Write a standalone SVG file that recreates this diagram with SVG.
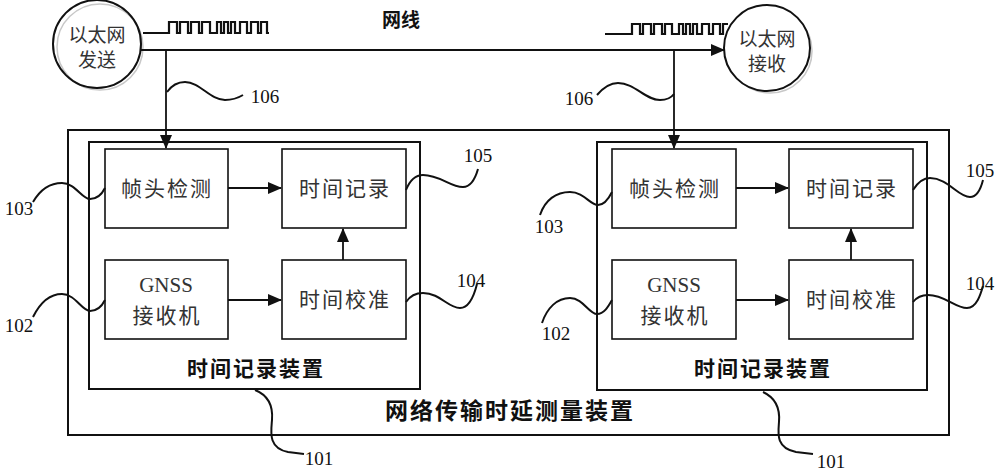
<svg xmlns="http://www.w3.org/2000/svg" width="1000" height="474" viewBox="0 0 1000 474">
<style>
.bx{fill:#fff;stroke:#111;stroke-width:1.6}
.frame{fill:none;stroke:#111;stroke-width:2}
.ln{fill:none;stroke:#111;stroke-width:1.8}
.ld{fill:none;stroke:#111;stroke-width:2}
.wave{fill:none;stroke:#111;stroke-width:2.2}
.t{font-family:"Noto Sans CJK SC","Noto Sans",sans-serif;font-size:21px;fill:#333;text-anchor:middle;letter-spacing:2px}
.tb{font-family:"Noto Sans CJK SC","Noto Sans",sans-serif;font-size:21px;font-weight:bold;fill:#111;text-anchor:middle;letter-spacing:2px}
.num{font-family:"Liberation Serif",serif;font-size:19px;fill:#111;text-anchor:middle}
.en{font-family:"Liberation Serif",serif;font-size:21px;fill:#333;text-anchor:middle}
.ct{font-family:"Noto Sans CJK SC","Noto Sans",sans-serif;font-size:19px;fill:#333;text-anchor:middle}
</style>
<defs>
<marker id="ah" markerWidth="14" markerHeight="12" refX="13" refY="6" orient="auto" markerUnits="userSpaceOnUse">
<path d="M0,0 L14,6 L0,12 Z" fill="#111"/>
</marker>
</defs>
<rect width="1000" height="474" fill="#fff"/>

<g id="frame-outer">
<rect class="frame" x="68" y="130" width="881" height="305"/>
<text class="tb" x="510" y="419" style="font-size:23px">网络传输时延测量装置</text>
</g>

<g id="device-left">
<rect class="frame" x="89" y="142" width="331" height="247"/>
<text class="tb" x="256" y="376">时间记录装置</text>
</g>
<g id="device-right">
<rect class="frame" x="597" y="142" width="330" height="248"/>
<text class="tb" x="763" y="376">时间记录装置</text>
</g>

<g id="eth-send">
<circle cx="100" cy="47" r="43" fill="none" stroke="#c8c8c8" stroke-width="1.5"/>
<circle cx="97" cy="44" r="44" fill="none" stroke="#111" stroke-width="2"/>
<text class="ct" x="97" y="42">以太网</text>
<text class="ct" x="97" y="67">发送</text>
</g>
<g id="eth-recv">
<circle cx="770" cy="51" r="42" fill="none" stroke="#c8c8c8" stroke-width="1.5"/>
<circle cx="767" cy="48" r="43" fill="#fff" stroke="#111" stroke-width="2"/>
<text class="ct" x="767" y="46">以太网</text>
<text class="ct" x="767" y="71">接收</text>
</g>

<g id="l-frame-detect"><rect class="bx" x="105" y="149" width="123" height="79"/><text class="t" x="167" y="196">帧头检测</text></g>
<g id="l-time-record"><rect class="bx" x="282" y="149" width="124" height="79"/><text class="t" x="345" y="196">时间记录</text></g>
<g id="l-gnss"><rect class="bx" x="105" y="260" width="123" height="79"/><text class="en" x="166" y="292">GNSS</text><text class="t" x="167" y="323">接收机</text></g>
<g id="l-time-cal"><rect class="bx" x="282" y="260" width="124" height="79"/><text class="t" x="345" y="307">时间校准</text></g>

<g id="r-frame-detect"><rect class="bx" x="612" y="149" width="124" height="79"/><text class="t" x="675" y="196">帧头检测</text></g>
<g id="r-time-record"><rect class="bx" x="789" y="149" width="124" height="79"/><text class="t" x="852" y="196">时间记录</text></g>
<g id="r-gnss"><rect class="bx" x="612" y="260" width="124" height="79"/><text class="en" x="674" y="292">GNSS</text><text class="t" x="675" y="323">接收机</text></g>
<g id="r-time-cal"><rect class="bx" x="789" y="260" width="124" height="79"/><text class="t" x="852" y="307">时间校准</text></g>

<g id="connectors">
<line class="ln" x1="141" y1="50" x2="724" y2="50" marker-end="url(#ah)"/>
<line class="ln" x1="166" y1="50" x2="166" y2="148" marker-end="url(#ah)"/>
<line class="ln" x1="674" y1="50" x2="674" y2="148" marker-end="url(#ah)"/>
<line class="ln" x1="228" y1="188" x2="281" y2="188" marker-end="url(#ah)"/>
<line class="ln" x1="228" y1="300" x2="281" y2="300" marker-end="url(#ah)"/>
<line class="ln" x1="343" y1="260" x2="343" y2="229" marker-end="url(#ah)"/>
<line class="ln" x1="736" y1="188" x2="788" y2="188" marker-end="url(#ah)"/>
<line class="ln" x1="736" y1="300" x2="788" y2="300" marker-end="url(#ah)"/>
<line class="ln" x1="851" y1="260" x2="851" y2="229" marker-end="url(#ah)"/>
</g>

<g id="waveforms">
<path class="wave" d="M143,33 H169 V22 H177 V33 H180 V22 H188 V33 H191 V22 H199 V33 H202 V22 H210 V33 H217 V22 H221 V33 H224 V22 H228 V33 H231 V22 H235 V33 H240 V22 H247 V33 H251 V22 H258 V33 H261 V22 H267 V33 H269"/>
<path class="wave" d="M605,34 H632 V24 H640 V34 H643 V24 H651 V34 H654 V24 H662 V34 H665 V24 H672 V34 H679 V24 H683 V34 H686 V24 H690 V34 H693 V24 H697 V34 H702 V24 H709 V34 H713 V24 H720 V34 H723 V24 H728"/>
</g>
<text class="tb" x="401" y="27" style="font-size:19px;letter-spacing:0">网线</text>

<g id="leaders">
<path class="ld" d="M167,92 C172,85 178,82 185,82 C200,82 210,100 225,100 C232,100 238,98 243,95"/>
<path class="ld" d="M597,95 C603,88 610,83 618,83 C635,83 645,100 660,100 C667,100 671,98 674,94"/>
<path class="ld" d="M406,190 C410,180 416,175 423,175 C440,175 450,187 463,187 C472,187 476,176 478,169"/>
<path class="ld" d="M913,190 C918,182 924,178 930,178 C948,178 958,197 970,197 C977,197 981,188 983,180"/>
<path class="ld" d="M406,302 C410,296 416,293 423,293 C440,293 448,308 460,308 C470,308 475,292 477,284"/>
<path class="ld" d="M913,302 C917,297 922,295 928,295 C945,295 955,308 967,308 C977,308 981,293 983,286"/>
<path class="ld" d="M33,202 C40,190 50,183 62,183 C75,183 82,199 90,199 C97,199 102,194 105,188"/>
<path class="ld" d="M540,215 C545,200 556,192 570,192 C584,192 590,205 598,205 C605,205 609,198 612,192"/>
<path class="ld" d="M33,317 C40,303 50,294 62,294 C75,294 82,311 90,311 C97,311 102,306 105,300"/>
<path class="ld" d="M542,323 C547,308 557,298 570,298 C583,298 589,314 597,314 C604,314 608,307 612,300"/>
<path class="ld" d="M255,390 C270,396 273,408 272,420 C271,432 268,448 288,452 L304,454"/>
<path class="ld" d="M763,392 C776,398 780,410 779,422 C778,434 776,448 796,452 L813,454"/>
</g>

<g id="labels">
<text class="num" x="265" y="103">106</text>
<text class="num" x="579" y="105">106</text>
<text class="num" x="478" y="162">105</text>
<text class="num" x="980" y="177">105</text>
<text class="num" x="471" y="287">104</text>
<text class="num" x="980" y="290">104</text>
<text class="num" x="19" y="215">103</text>
<text class="num" x="549" y="233">103</text>
<text class="num" x="19" y="332">102</text>
<text class="num" x="556" y="340">102</text>
<text class="num" x="319" y="465">101</text>
<text class="num" x="831" y="468">101</text>
</g>
</svg>
